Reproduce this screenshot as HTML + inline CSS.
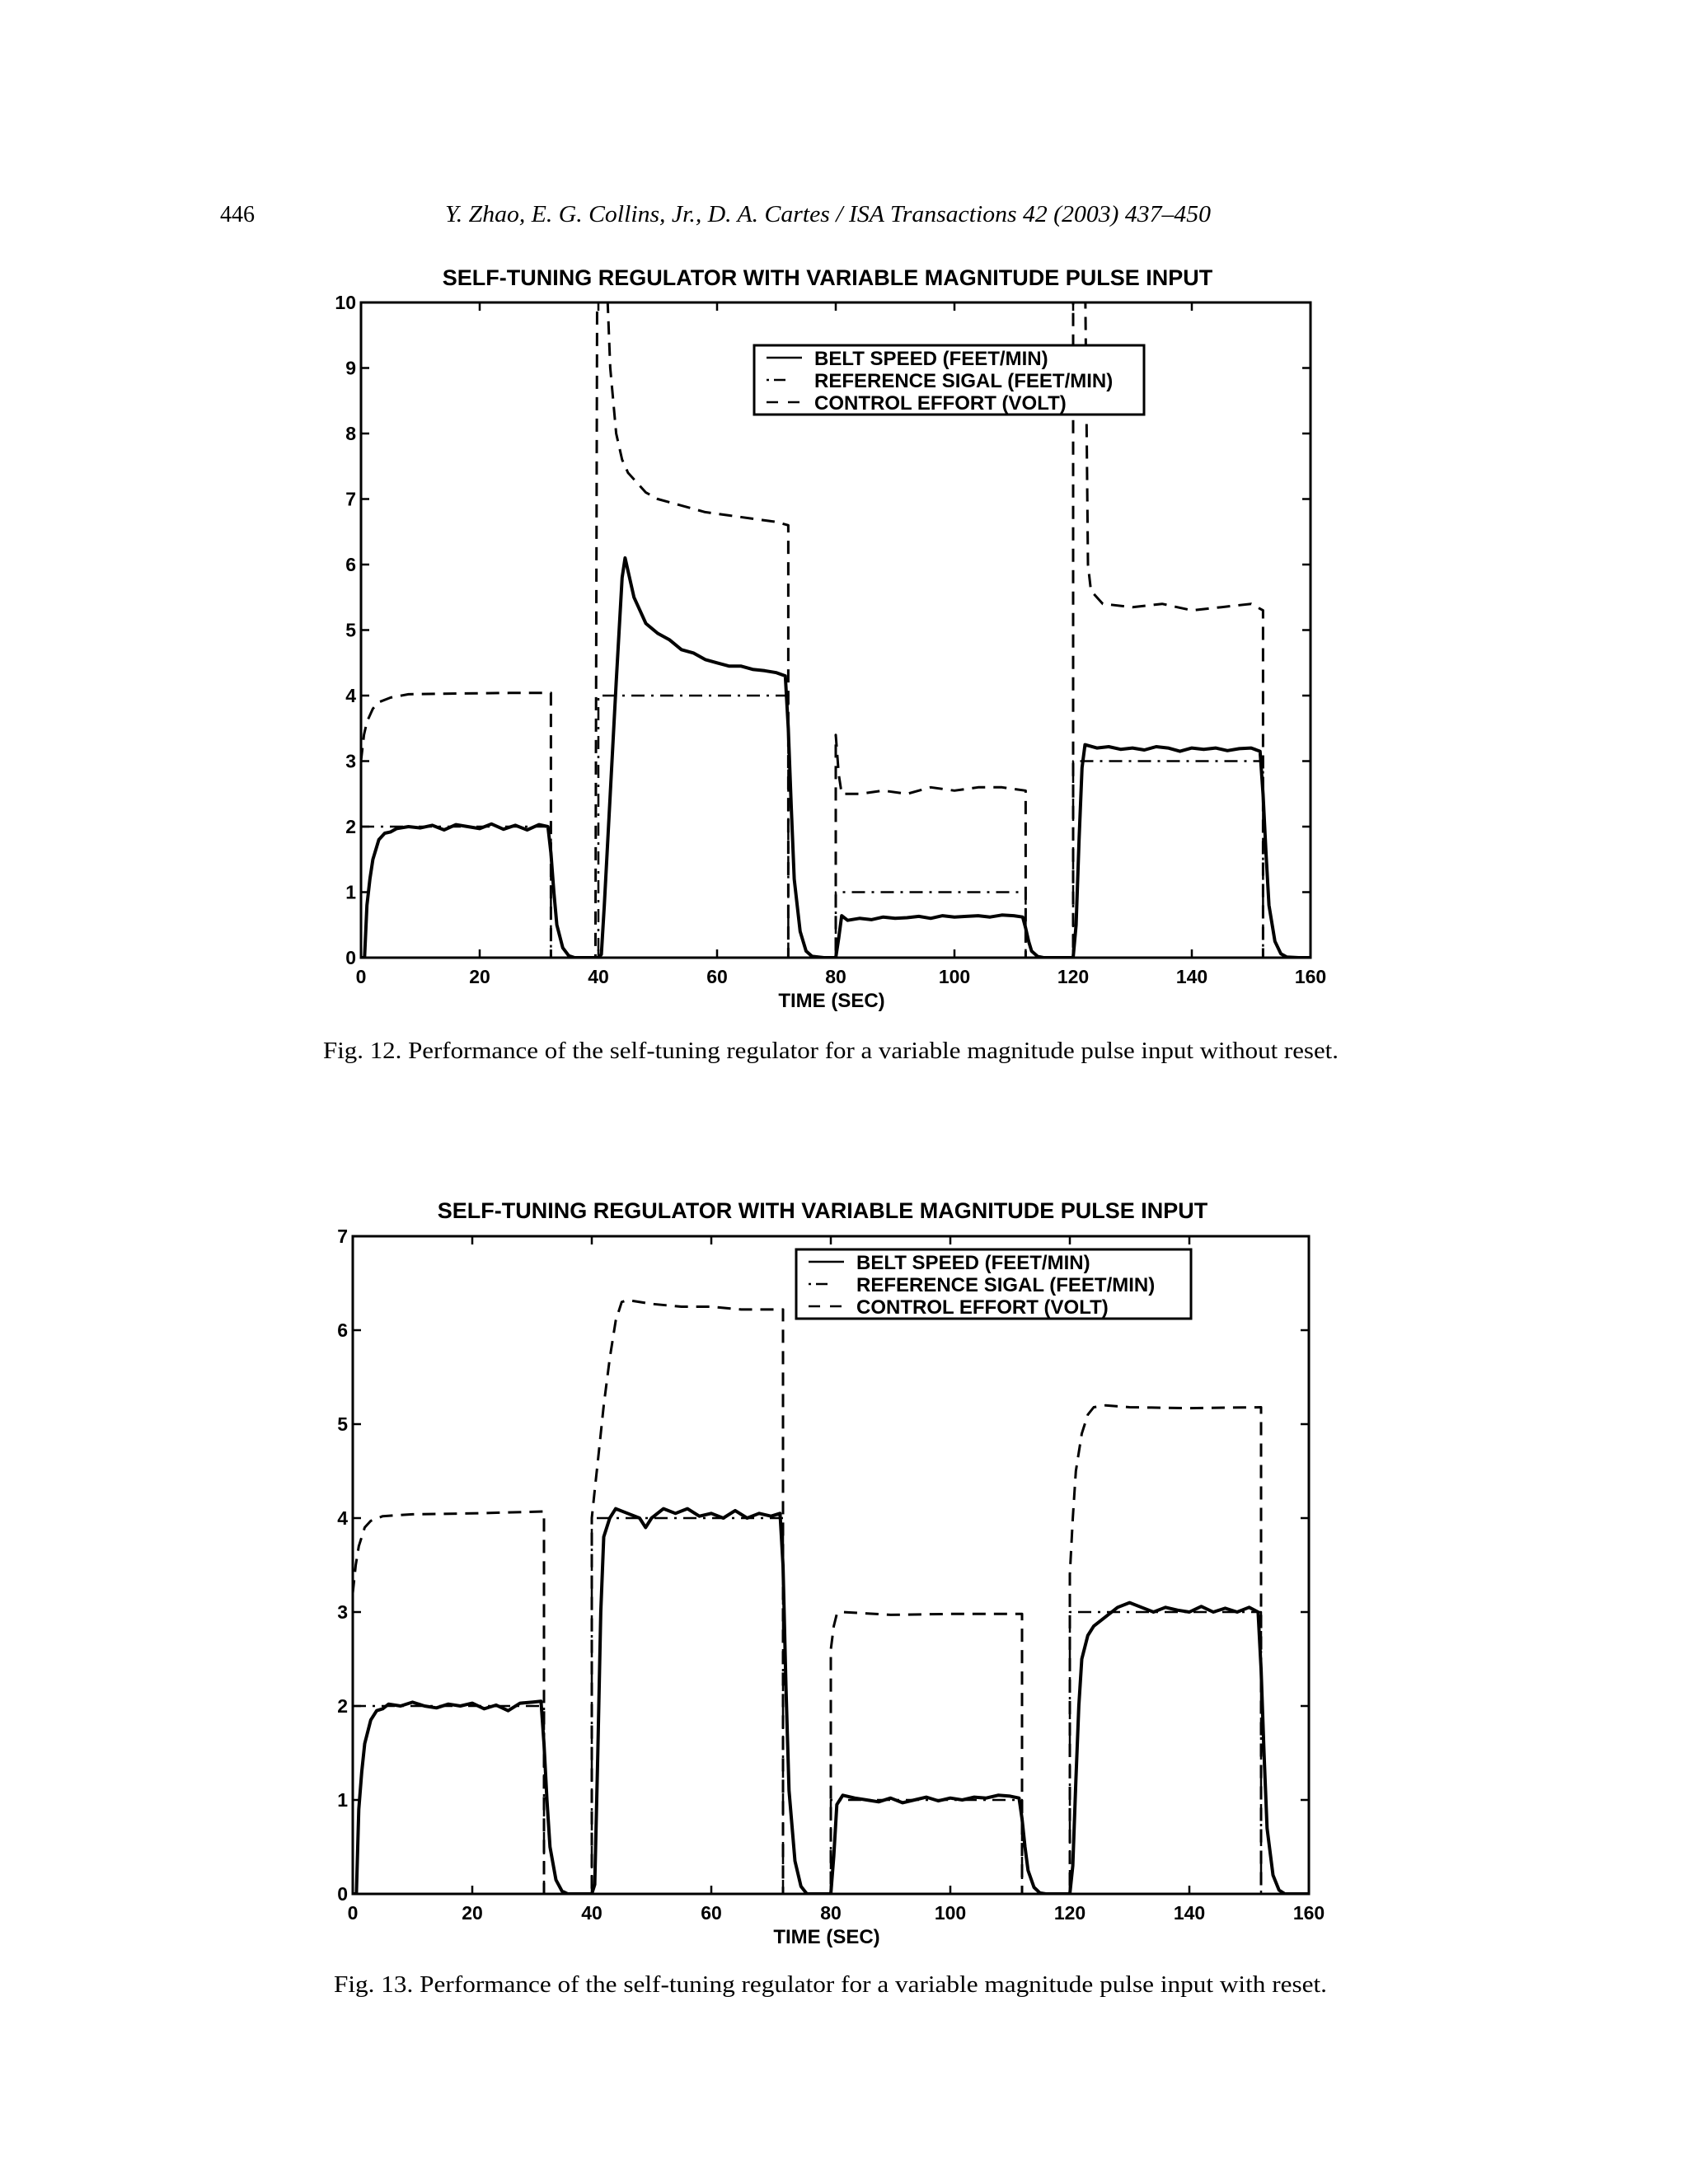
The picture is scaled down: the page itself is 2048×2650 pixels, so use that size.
<!DOCTYPE html>
<html><head><meta charset="utf-8"><style>
html,body{margin:0;padding:0;background:#fff;}
svg{display:block;}
</style></head><body>
<svg id="page" width="2048" height="2650" viewBox="0 0 2048 2650" xmlns="http://www.w3.org/2000/svg">
<rect width="2048" height="2650" fill="#fff"/>
<text x="267" y="269" font-family="Liberation Serif, serif" font-size="28">446</text>
<text x="540" y="269" font-family="Liberation Serif, serif" font-style="italic" font-size="28" textLength="929" lengthAdjust="spacingAndGlyphs">Y. Zhao, E. G. Collins, Jr., D. A. Cartes / ISA Transactions 42 (2003) 437–450</text>
<g id="c1"></g>
<g id="c2"></g>
<text x="392" y="1284" font-family="Liberation Serif, serif" font-size="28" textLength="1232" lengthAdjust="spacingAndGlyphs">Fig. 12. Performance of the self-tuning regulator for a variable magnitude pulse input without reset.</text>
<text x="405" y="2417" font-family="Liberation Serif, serif" font-size="28" textLength="1205" lengthAdjust="spacingAndGlyphs">Fig. 13. Performance of the self-tuning regulator for a variable magnitude pulse input with reset.</text>
</svg>
<script>
const NS="http://www.w3.org/2000/svg";
const xTicks=[0,20,40,60,80,100,120,140,160];
const yTicks1=[0,1,2,3,4,5,6,7,8,9,10];
const yTicks2=[0,1,2,3,4,5,6,7];
const legendLabels=["BELT SPEED (FEET/MIN)","REFERENCE SIGAL (FEET/MIN)","CONTROL EFFORT (VOLT)"];
const chartTitle="SELF-TUNING REGULATOR WITH VARIABLE MAGNITUDE PULSE INPUT";
const reference1=[[0,2],[32,2],[32,0],[40,0],[40,4],[72,4],[72,0],[80,0],[80,1],[112,1],[112,0],[120,0],[120,3],[152,3],[152,0],[160,0]];
const reference2=[[0,2],[32,2],[32,0],[40,0],[40,4],[72,4],[72,0],[80,0],[80,1],[112,1],[112,0],[120,0],[120,3],[152,3],[152,0],[160,0]];
const belt1=[[0,0],[0.6,0],[1,0.8],[1.5,1.2],[2,1.5],[3,1.8],[4,1.9],[5,1.92],[6,1.97],[8,2.0],[10,1.98],[12,2.02],[14,1.95],[16,2.03],[18,2.0],[20,1.97],[22,2.04],[24,1.96],[26,2.02],[28,1.95],[30,2.03],[31.5,2.0],[32,1.6],[32.5,1.0],[33,0.5],[34,0.15],[35,0.03],[36,0],[40,0],[40.5,0.05],[41,0.8],[42,2.5],[43,4.2],[44,5.8],[44.5,6.1],[45,5.9],[46,5.5],[47,5.3],[48,5.1],[50,4.95],[52,4.85],[54,4.7],[56,4.65],[58,4.55],[60,4.5],[62,4.45],[64,4.45],[66,4.4],[68,4.38],[70,4.35],[71.5,4.3],[72,3.5],[72.5,2.3],[73,1.2],[74,0.4],[75,0.1],[76,0.02],[78,0],[80,0],[80.5,0.3],[81,0.64],[82,0.57],[84,0.6],[86,0.58],[88,0.62],[90,0.6],[92,0.61],[94,0.63],[96,0.6],[98,0.64],[100,0.62],[102,0.63],[104,0.64],[106,0.62],[108,0.65],[110,0.64],[111.5,0.62],[112,0.45],[112.5,0.25],[113,0.1],[114,0.02],[115,0],[120,0],[120.5,0.5],[121,1.8],[121.5,2.9],[122,3.25],[124,3.2],[126,3.22],[128,3.18],[130,3.2],[132,3.17],[134,3.22],[136,3.2],[138,3.15],[140,3.2],[142,3.18],[144,3.2],[146,3.16],[148,3.19],[150,3.2],[151.5,3.15],[152,2.5],[152.5,1.6],[153,0.8],[154,0.25],[155,0.06],[156,0.01],[158,0],[160,0]];
const control1=[[0,3.0],[0.5,3.4],[1,3.6],[2,3.8],[3,3.9],[5,3.97],[8,4.02],[15,4.03],[25,4.04],[32,4.04],[32,0],[39.5,0],[39.8,10.6],[41.3,10.6],[42,9],[43,8],[44,7.6],[45,7.4],[46,7.3],[48,7.1],[50,7.0],[54,6.9],[58,6.8],[62,6.75],[66,6.7],[70,6.65],[72,6.6],[72,0],[80,0],[80,3.4],[80.5,2.8],[81,2.5],[84,2.5],[88,2.55],[92,2.5],[96,2.6],[100,2.55],[104,2.6],[108,2.6],[112,2.55],[112,0],[120,0],[120,10.6],[122,10.6],[122.5,6],[123,5.6],[125,5.4],[130,5.35],[135,5.4],[140,5.3],[145,5.35],[150,5.4],[152,5.3],[152,0],[160,0]];
const belt2=[[0,0],[0.6,0],[1,0.9],[1.5,1.3],[2,1.6],[3,1.85],[4,1.95],[5,1.97],[6,2.02],[8,2.0],[10,2.04],[12,2.0],[14,1.98],[16,2.02],[18,2.0],[20,2.03],[22,1.97],[24,2.01],[26,1.95],[28,2.03],[30,2.04],[31.5,2.05],[32,1.6],[32.5,1.0],[33,0.5],[34,0.15],[35,0.03],[36,0],[40,0],[40.5,0.1],[41,1.5],[41.5,3.0],[42,3.8],[43,4.0],[44,4.1],[46,4.05],[48,4.0],[49,3.9],[50,4.0],[52,4.1],[54,4.05],[56,4.1],[58,4.02],[60,4.05],[62,4.0],[64,4.08],[66,4.0],[68,4.05],[70,4.02],[71.5,4.05],[72,3.5],[72.5,2.2],[73,1.1],[74,0.35],[75,0.08],[76,0],[80,0],[80.5,0.4],[81,0.95],[82,1.05],[84,1.02],[86,1.0],[88,0.98],[90,1.02],[92,0.97],[94,1.0],[96,1.03],[98,0.99],[100,1.02],[102,1.0],[104,1.03],[106,1.02],[108,1.05],[110,1.04],[111.5,1.02],[112,0.8],[112.5,0.5],[113,0.25],[114,0.07],[115,0.01],[116,0],[120,0],[120.5,0.3],[121,1.2],[121.5,2.0],[122,2.5],[123,2.75],[124,2.85],[126,2.95],[128,3.05],[130,3.1],[132,3.05],[134,3.0],[136,3.05],[138,3.02],[140,3.0],[142,3.06],[144,3.0],[146,3.04],[148,3.0],[150,3.05],[151.5,3.0],[152,2.4],[152.5,1.5],[153,0.7],[154,0.2],[155,0.04],[156,0],[160,0]];
const control2=[[0,3.2],[0.5,3.5],[1,3.7],[2,3.9],[3,3.97],[5,4.02],[10,4.04],[20,4.05],[32,4.07],[32,0],[40,0],[40,4.0],[40.5,4.3],[41,4.6],[42,5.2],[43,5.7],[44,6.1],[45,6.3],[46,6.32],[50,6.28],[55,6.25],[60,6.25],[65,6.22],[72,6.22],[72,0],[80,0],[80,2.6],[80.5,2.85],[81,2.98],[82,3.0],[90,2.97],[100,2.98],[112,2.98],[112,0],[120,0],[120,3.4],[120.5,4.0],[121,4.5],[122,4.9],[123,5.1],[124,5.18],[126,5.2],[130,5.18],[140,5.17],[152,5.18],[152,0],[160,0]];

function mk(parent,tag,attrs){const e=document.createElementNS(NS,tag);for(const k in attrs)e.setAttribute(k,attrs[k]);parent.appendChild(e);return e;}

function drawChart(gid,box,yTicks,ymax,series,leg,titleY,id){
  const g=document.getElementById(gid);
  const X=v=>box.l+(v/160)*(box.r-box.l);
  const Y=v=>box.b-(v/ymax)*(box.b-box.t);
  const cp=mk(g,'clipPath',{id:'clip'+id});
  mk(cp,'rect',{x:box.l,y:box.t,width:box.r-box.l,height:box.b-box.t});
  const title=mk(g,'text',{x:(box.l+box.r)/2-10,y:titleY,'text-anchor':'middle','font-family':'Liberation Sans, sans-serif','font-weight':'bold','font-size':'27'});
  title.textContent=chartTitle;
  
  
  xTicks.forEach(v=>{
    const t=mk(g,'path',{d:`M${X(v)},${box.b}v-10M${X(v)},${box.t}v10`,stroke:'#000','stroke-width':2.5});
    
    
    const l=mk(g,'text',{x:X(v),y:box.b+31,'text-anchor':'middle','font-family':'Liberation Sans, sans-serif','font-weight':'bold','font-size':'23'});
    l.textContent=v;
    
    
  });
  yTicks.forEach(v=>{
    const t=mk(g,'path',{d:`M${box.l},${Y(v)}h10M${box.r},${Y(v)}h-10`,stroke:'#000','stroke-width':2.5});
    
    
    const l=mk(g,'text',{x:box.l-6,y:Y(v)+8,'text-anchor':'end','font-family':'Liberation Sans, sans-serif','font-weight':'bold','font-size':'23'});
    l.textContent=v;
    
    
  });
  const xl=mk(g,'text',{x:(box.l+box.r)/2-5,y:box.b+60,'text-anchor':'middle','font-family':'Liberation Sans, sans-serif','font-weight':'bold','font-size':'24'});
  xl.textContent='TIME (SEC)';
  
  
  const styles=[{w:4,d:''},{w:2.5,d:'16 8 3 8'},{w:3,d:'16 10'}];
  const names=['belt-speed-line','reference-signal-line','control-effort-line'];
  series.forEach((s,i)=>{
    const p=mk(g,'polyline',{points:s.map(q=>X(q[0]).toFixed(1)+','+Y(q[1]).toFixed(1)).join(' '),fill:'none',stroke:'#000','stroke-width':styles[i].w,'stroke-dasharray':styles[i].d,'stroke-linejoin':'round','clip-path':`url(#clip${id})`});
    
    
  });
  const fr=mk(g,'rect',{x:box.l,y:box.t,width:box.r-box.l,height:box.b-box.t,fill:'none',stroke:'#000','stroke-width':3});
  
  
  const lg=mk(g,'g',{});
  
  
  mk(lg,'rect',{x:leg.x,y:leg.y,width:leg.w,height:leg.h,fill:'#fff',stroke:'#000','stroke-width':3});
  legendLabels.forEach((lab,i)=>{
    const cy=leg.y+15+i*27;
    mk(lg,'line',{x1:leg.x+15,x2:leg.x+58,y1:cy,y2:cy,stroke:'#000','stroke-width':2.5,'stroke-dasharray':i==0?'':(i==1?'3 6 14 20':'14 12')});
    const t=mk(lg,'text',{x:leg.x+73,y:cy+9,'font-family':'Liberation Sans, sans-serif','font-weight':'bold','font-size':'24'});
    t.textContent=lab;
    
    
  });
}
drawChart('c1',{l:438,r:1590,t:367,b:1162},yTicks1,10,[belt1,reference1,control1],{x:915,y:419,w:473,h:84},346,1);
drawChart('c2',{l:428,r:1588,t:1500,b:2298},yTicks2,7,[belt2,reference2,control2],{x:966,y:1516,w:479,h:84},1478,2);
</script>
</body></html>
